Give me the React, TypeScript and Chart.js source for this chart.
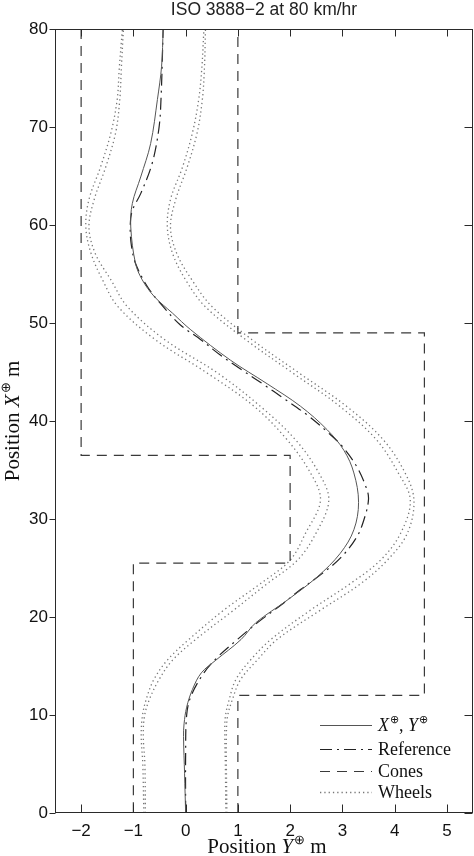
import { useEffect, useRef } from "react";
import { Chart, registerables } from "chart.js";

Chart.register(...registerables);

const chartTitle = "ISO 3888\u22122 at 80 km/hr";
const xAxisTitle = "Position Y\u2295 m";
const yAxisTitle = "Position X\u2295 m";
const xTicks = [-2, -1, 0, 1, 2, 3, 4, 5];
const yTicks = [0, 10, 20, 30, 40, 50, 60, 70, 80];

// vehicle path: longitudinal X (m) and lateral Y (m)
const pathX = [0, 4, 7.8, 9.1, 10.8, 12.6, 14.3, 15.6, 17.7, 19.4, 21.7, 24.1, 26.5, 28.9, 31.7, 34.7, 37, 39.1, 41.5, 43.8, 46.2, 49.3, 51, 52.7, 54.4, 56.1, 59.8, 62.2, 64.9, 68.3, 72.8, 76.2, 80];
const pathY = [0, -0.02, -0.04, -0.03, 0.02, 0.13, 0.3, 0.58, 1.06, 1.34, 1.94, 2.52, 2.96, 3.22, 3.31, 3.22, 3.03, 2.71, 2.2, 1.56, 0.86, 0.1, -0.25, -0.6, -0.83, -0.96, -1.05, -1.02, -0.86, -0.67, -0.54, -0.46, -0.43];

// reference path
const refX = [0, 6, 10, 11.9, 14.3, 15.9, 17.7, 19.4, 21.2, 22.8, 24.3, 26, 28.2, 30.4, 32, 33, 35.3, 37.4, 38.9, 40.6, 42.3, 43.7, 45.2, 46.7, 48.3, 49.8, 51.8, 53.7, 56.1, 58, 60, 61.5, 63.2, 66.3, 69.9, 73, 80];
const refY = [0, 0, 0.02, 0.1, 0.35, 0.61, 0.99, 1.37, 1.82, 2.2, 2.58, 2.96, 3.28, 3.44, 3.5, 3.47, 3.28, 3.0, 2.71, 2.33, 1.88, 1.5, 1.08, 0.67, 0.29, -0.1, -0.45, -0.73, -0.96, -1.04, -1.06, -1.02, -0.86, -0.64, -0.51, -0.47, -0.43];

// cone lines
const coneLeftX = [80, 36.5, 36.5, 25.5, 25.5, 0];
const coneLeftY = [-2, -2, 2, 2, -1, -1];
const coneRightX = [0, 12, 12, 49, 49, 80];
const coneRightY = [1, 1, 4.57, 4.57, 1, 1];

// wheel tracks
const wheelX = [0, 5, 7.8, 9.8, 11.5, 13.6, 15.6, 17.7, 20.7, 23.4, 25.8, 28.5, 31.9, 34.7, 38.1, 41.5, 44.9, 48.3, 51.7, 54.4, 57.1, 59.8, 62.6, 65.9, 69.4, 72.8, 76, 80];
const wheelLeftA = [-0.8, -0.82, -0.85, -0.83, -0.76, -0.61, -0.35, 0.06, 0.73, 1.43, 2.0, 2.29, 2.58, 2.39, 1.94, 1.31, 0.41, -0.58, -1.3, -1.59, -1.81, -1.91, -1.85, -1.63, -1.43, -1.31, -1.27, -1.21];
const wheelLeftB = [-0.77, -0.78, -0.81, -0.79, -0.7, -0.51, -0.25, 0.19, 0.92, 1.56, 2.14, 2.49, 2.74, 2.55, 2.1, 1.43, 0.61, -0.4, -1.12, -1.43, -1.73, -1.85, -1.75, -1.53, -1.34, -1.26, -1.23, -1.19];
const wheelRightA = [0.77, 0.76, 0.75, 0.76, 0.83, 0.96, 1.24, 1.63, 2.39, 3.15, 3.73, 4.11, 4.3, 4.07, 3.65, 2.95, 2.05, 1.15, 0.37, 0.0, -0.25, -0.35, -0.29, -0.06, 0.13, 0.25, 0.31, 0.35];
const wheelRightB = [0.79, 0.78, 0.78, 0.8, 0.89, 1.05, 1.37, 1.75, 2.58, 3.35, 3.86, 4.24, 4.37, 4.2, 3.78, 3.08, 2.17, 1.27, 0.5, 0.12, -0.17, -0.29, -0.19, 0.03, 0.22, 0.32, 0.36, 0.38];

const SERIF = '"Liberation Serif", "Times New Roman", serif';
const SANS = '"Liberation Sans", Arial, sans-serif';

type Pt = { x: number | null; y: number | null };
const toPts = (lat: number[], lon: number[]): Pt[] => lat.map((v, i) => ({ x: v, y: lon[i] }));
const joinGap = (...parts: Pt[][]): Pt[] => {
  const out: Pt[] = [];
  parts.forEach((p, i) => {
    if (i > 0) out.push({ x: null, y: null });
    out.push(...p);
  });
  return out;
};

type Seg = { t: string; italic?: boolean; sup?: boolean };
function parseRich(s: string): Seg[] {
  const segs: Seg[] = [];
  let buf = "";
  const chars = Array.from(s);
  for (let i = 0; i < chars.length; i++) {
    const c = chars[i];
    if (c === "\u2295") {
      if (buf) { segs.push({ t: buf }); buf = ""; }
      segs.push({ t: c, sup: true });
    } else if ((c === "X" || c === "Y") && chars[i + 1] === "\u2295") {
      if (buf) { segs.push({ t: buf }); buf = ""; }
      segs.push({ t: c, italic: true });
    } else buf += c;
  }
  if (buf) segs.push({ t: buf });
  return segs;
}

function drawRich(ctx: CanvasRenderingContext2D, text: string, x: number, y: number, size: number, align: "center" | "left") {
  const segs = parseRich(text);
  const fontOf = (s: Seg) => `${s.italic ? "italic " : ""}${s.sup ? Math.round(size * 0.62) : size}px ${SERIF}`;
  const widths = segs.map((s) => { ctx.font = fontOf(s); return ctx.measureText(s.t).width + (s.sup ? 1 : 0); });
  const total = widths.reduce((a, b) => a + b, 0);
  let cx = align === "center" ? x - total / 2 : x;
  ctx.textAlign = "left";
  ctx.textBaseline = "alphabetic";
  segs.forEach((s, i) => {
    ctx.font = fontOf(s);
    ctx.fillText(s.t, cx + (s.sup ? 1 : 0), s.sup ? y - size * 0.42 : y);
    cx += widths[i];
  });
}

const decorPlugin = {
  id: "decor",
  afterDatasetsDraw(chart: any) {
    const { ctx, chartArea: a, scales } = chart;
    ctx.save();
    ctx.strokeStyle = "#2a2a2a";
    ctx.lineWidth = 1;
    ctx.setLineDash([]);
    const L = Math.round(a.left) + 0.5, R = Math.round(a.right) - 0.5;
    const T = Math.round(a.top) + 0.5, B = Math.round(a.bottom) - 0.5;
    ctx.strokeRect(L, T, R - L, B - T);
    ctx.beginPath();
    xTicks.forEach((v) => {
      const px = Math.round(scales.x.getPixelForValue(v)) + 0.5;
      ctx.moveTo(px, B); ctx.lineTo(px, B - 8);
      ctx.moveTo(px, T); ctx.lineTo(px, T + 7);
    });
    yTicks.forEach((v) => {
      const py = Math.round(scales.y.getPixelForValue(v)) + 0.5;
      ctx.moveTo(L, py); ctx.lineTo(L - 6, py);
      ctx.moveTo(R, py); ctx.lineTo(R - 8, py);
    });
    ctx.stroke();
    ctx.restore();
  },
  afterDraw(chart: any) {
    const { ctx, chartArea: a } = chart;
    ctx.save();
    ctx.fillStyle = "#111";
    // axis titles
    drawRich(ctx, xAxisTitle, (a.left + a.right) / 2 + 3, 853, 21, "center");
    ctx.save();
    ctx.translate(19, (a.top + a.bottom) / 2);
    ctx.rotate(-Math.PI / 2);
    drawRich(ctx, yAxisTitle, 0, 0, 21, "center");
    ctx.restore();
    // legend
    const rows = [725, 749, 771, 792];
    chart.data.datasets.forEach((ds: any, i: number) => {
      if (!ds.label) return;
      const ry = rows[i];
      ctx.save();
      ctx.strokeStyle = ds.borderColor;
      ctx.lineWidth = ds.borderWidth;
      ctx.setLineDash(ds.borderDash || []);
      ctx.beginPath();
      ctx.moveTo(320, ry + 0.5);
      ctx.lineTo(372, ry + 0.5);
      ctx.stroke();
      ctx.restore();
      ctx.fillStyle = "#111";
      drawRich(ctx, ds.label, 378, ry + 6, 18, "left");
    });
    ctx.restore();
  },
};

export default function App() {
  const ref = useRef<HTMLCanvasElement | null>(null);
  useEffect(() => {
    if (!ref.current) return;
    const chart = new Chart(ref.current, {
      type: "scatter",
      data: {
        datasets: [
          {
            label: "X\u2295, Y\u2295",
            data: toPts(pathY, pathX),
            showLine: true,
            borderColor: "#555",
            borderWidth: 1,
            pointRadius: 0,
            tension: 0.35,
          },
          {
            label: "Reference",
            data: toPts(refY, refX),
            showLine: true,
            borderColor: "#222",
            borderWidth: 1.2,
            borderDash: [12, 5, 2, 5],
            pointRadius: 0,
            tension: 0.35,
          },
          {
            label: "Cones",
            data: joinGap(toPts(coneLeftY, coneLeftX), toPts(coneRightY, coneRightX)),
            showLine: true,
            borderColor: "#3a3a3a",
            borderWidth: 1.2,
            borderDash: [10, 7],
            pointRadius: 0,
            spanGaps: false,
          },
          {
            label: "Wheels",
            data: joinGap(
              toPts(wheelLeftA, wheelX),
              toPts(wheelLeftB, wheelX),
              toPts(wheelRightA, wheelX),
              toPts(wheelRightB, wheelX)
            ),
            showLine: true,
            borderColor: "#777",
            borderWidth: 1.3,
            borderDash: [1.3, 3],
            pointRadius: 0,
            spanGaps: false,
            tension: 0.35,
          },
        ],
      },
      options: {
        animation: false,
        responsive: true,
        maintainAspectRatio: false,
        layout: { padding: { left: 0, right: 1, top: 0, bottom: 0 } },
        plugins: {
          legend: { display: false },
          tooltip: { enabled: false },
          title: {
            display: true,
            text: chartTitle,
            fullSize: false,
            color: "#222",
            font: { family: SANS, size: 17.5, weight: "normal", lineHeight: 1.2 },
            padding: { top: 0, bottom: 8 },
          },
        },
        scales: {
          x: {
            type: "linear",
            min: -2.5,
            max: 5.5,
            grid: { display: false, drawTicks: false },
            border: { display: false },
            ticks: {
              padding: 8,
              color: "#111",
              font: { family: SANS, size: 17 },
              callback: (v: any) => (Number(v) < 0 ? "\u2212" + Math.abs(Number(v)) : String(v)),
            },
            afterBuildTicks: (s: any) => { s.ticks = xTicks.map((v) => ({ value: v })); },
            afterFit: (s: any) => { s.height = 43; },
          },
          y: {
            type: "linear",
            min: 0,
            max: 80,
            grid: { display: false, drawTicks: false },
            border: { display: false },
            ticks: {
              padding: 7,
              color: "#111",
              font: { family: SANS, size: 17 },
            },
            afterBuildTicks: (s: any) => { s.ticks = yTicks.map((v) => ({ value: v })); },
            afterFit: (s: any) => { s.width = 55; },
          },
        },
      },
      plugins: [decorPlugin],
    } as any);
    return () => chart.destroy();
  }, []);
  return (
    <div style={{ position: "fixed", left: 0, top: 0, width: 474, height: 856, background: "#fff" }}>
      <canvas ref={ref} />
    </div>
  );
}
